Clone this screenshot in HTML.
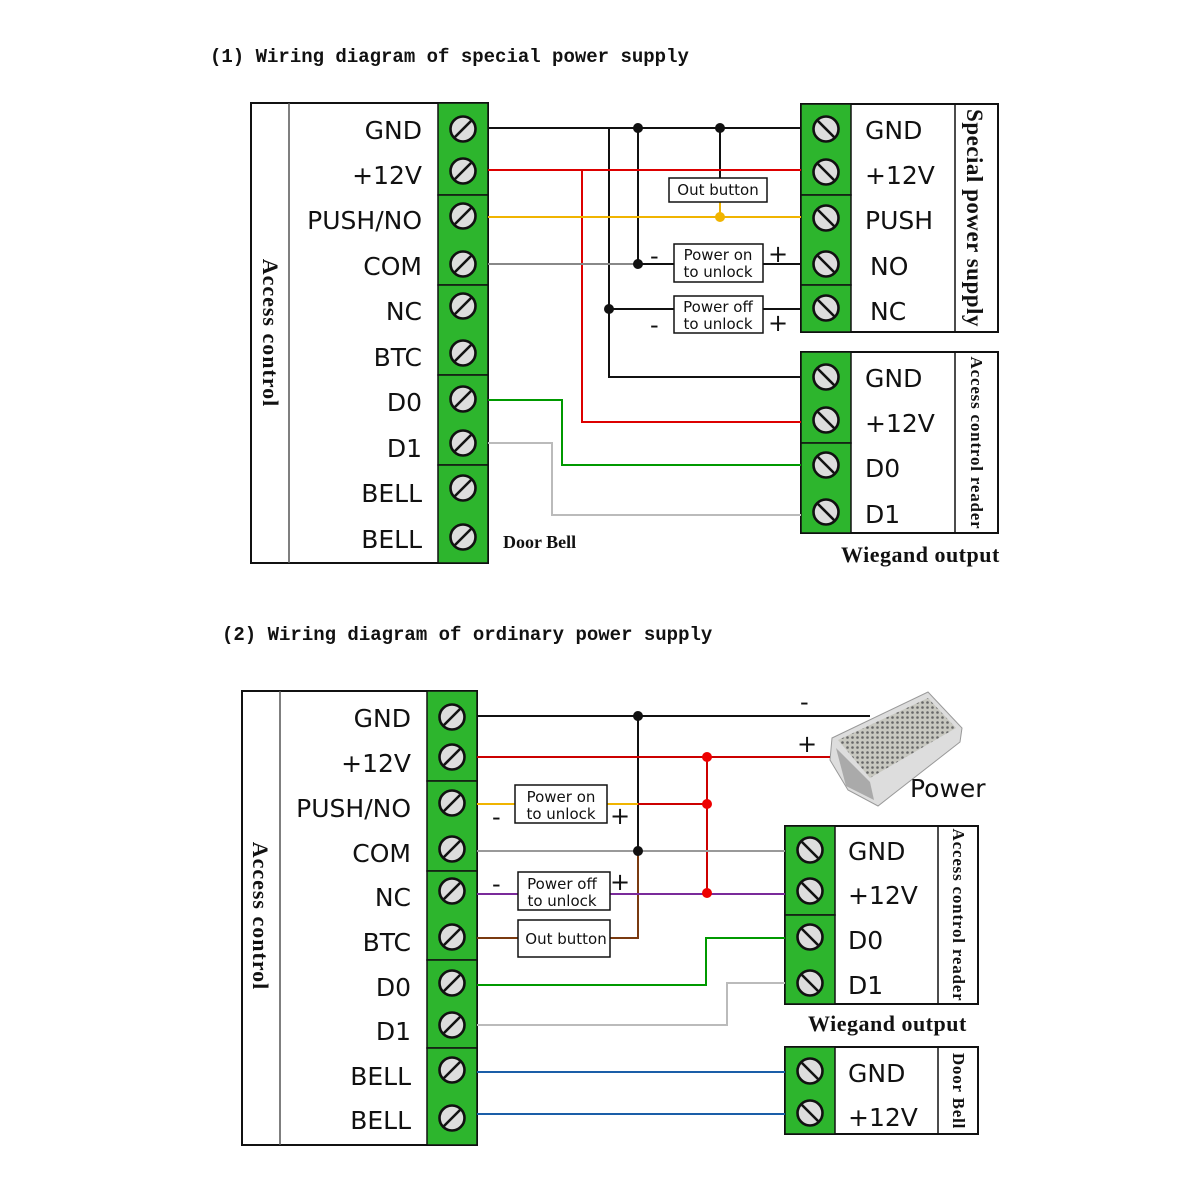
<!DOCTYPE html>
<html><head><meta charset="utf-8"><style>
html,body{margin:0;padding:0;background:#fff;}
svg{display:block;}
.lbl{font-family:"DejaVu Sans","Liberation Sans",sans-serif;font-size:25px;fill:#111;}
.ser{font-family:"Liberation Serif",serif;font-weight:bold;fill:#111;}
.ttl{font-family:"Liberation Mono",monospace;font-weight:bold;font-size:19px;fill:#111;}
.bx{font-family:"DejaVu Sans","Liberation Sans",sans-serif;font-size:15px;fill:#111;}
.pm{font-family:"DejaVu Sans","Liberation Sans",sans-serif;font-size:24px;fill:#111;}
</style></head><body>
<svg width="1200" height="1200" viewBox="0 0 1200 1200" xmlns="http://www.w3.org/2000/svg">
<defs>
<g id="tl"><circle r="12.5" fill="#ddd" stroke="#111" stroke-width="2.6"/><line x1="-8" y1="8" x2="8" y2="-8" stroke="#111" stroke-width="2.6"/></g>
<g id="tr"><circle r="12.5" fill="#ddd" stroke="#111" stroke-width="2.6"/><line x1="-8" y1="-8" x2="8" y2="8" stroke="#111" stroke-width="2.6"/></g>
<pattern id="mesh" width="5" height="5" patternUnits="userSpaceOnUse"><rect width="5" height="5" fill="#c8c8c0"/><circle cx="2.5" cy="2.5" r="1.3" fill="#666"/></pattern>
</defs>

<text class="ttl" x="210" y="62">(1) Wiring diagram of special power supply</text>

<rect x="251" y="103" width="237" height="460" fill="#fff" stroke="#111" stroke-width="2"/>
<line x1="289" y1="103" x2="289" y2="563" stroke="#555" stroke-width="1.5"/>
<g fill="#2db52d" stroke="#111" stroke-width="1.5">
<rect x="438" y="103" width="50" height="92"/><rect x="438" y="195" width="50" height="90"/><rect x="438" y="285" width="50" height="90"/><rect x="438" y="375" width="50" height="90"/><rect x="438" y="465" width="50" height="98"/>
</g>
<use href="#tl" x="463" y="129"/><use href="#tl" x="463" y="171"/><use href="#tl" x="463" y="216"/><use href="#tl" x="463" y="264"/><use href="#tl" x="463" y="306"/><use href="#tl" x="463" y="353"/><use href="#tl" x="463" y="399"/><use href="#tl" x="463" y="443"/><use href="#tl" x="463" y="488"/><use href="#tl" x="463" y="537"/>
<g class="lbl" text-anchor="end">
<text x="422" y="139">GND</text><text x="422" y="184">+12V</text><text x="422" y="229">PUSH/NO</text><text x="422" y="275">COM</text><text x="422" y="320">NC</text><text x="422" y="366">BTC</text><text x="422" y="411">D0</text><text x="422" y="457">D1</text><text x="422" y="502">BELL</text><text x="422" y="548">BELL</text>
</g>
<text class="ser" font-size="22" letter-spacing="1" transform="translate(263,333) rotate(90)" text-anchor="middle">Access control</text>

<rect x="801" y="104" width="197" height="228" fill="#fff" stroke="#111" stroke-width="2"/>
<line x1="955" y1="104" x2="955" y2="332" stroke="#111" stroke-width="1.5"/>
<g fill="#2db52d" stroke="#111" stroke-width="1.5"><rect x="801" y="104" width="50" height="91"/><rect x="801" y="195" width="50" height="90"/><rect x="801" y="285" width="50" height="47"/></g>
<use href="#tr" x="826" y="129"/><use href="#tr" x="826" y="172"/><use href="#tr" x="826" y="218"/><use href="#tr" x="826" y="264"/><use href="#tr" x="826" y="308"/>
<g class="lbl"><text x="865" y="139">GND</text><text x="865" y="184">+12V</text><text x="865" y="229">PUSH</text><text x="870" y="275">NO</text><text x="870" y="320">NC</text></g>
<text class="ser" font-size="23" letter-spacing="0.5" transform="translate(967,218) rotate(90)" text-anchor="middle">Special power supply</text>

<rect x="801" y="352" width="197" height="181" fill="#fff" stroke="#111" stroke-width="2"/>
<line x1="955" y1="352" x2="955" y2="533" stroke="#111" stroke-width="1.5"/>
<g fill="#2db52d" stroke="#111" stroke-width="1.5"><rect x="801" y="352" width="50" height="91"/><rect x="801" y="443" width="50" height="90"/></g>
<use href="#tr" x="826" y="377"/><use href="#tr" x="826" y="420"/><use href="#tr" x="826" y="465"/><use href="#tr" x="826" y="512"/>
<g class="lbl"><text x="865" y="387">GND</text><text x="865" y="432">+12V</text><text x="865" y="477">D0</text><text x="865" y="523">D1</text></g>
<text class="ser" font-size="17" letter-spacing="0.8" transform="translate(971,443) rotate(90)" text-anchor="middle">Access control reader</text>
<text class="ser" font-size="22" letter-spacing="0.5" x="841" y="562">Wiegand output</text>
<text class="ser" font-size="18" x="503" y="548">Door Bell</text>

<g fill="none" stroke-width="2">
<polyline points="488,128 801,128" stroke="#111"/>
<polyline points="609,128 609,377 801,377" stroke="#111"/>
<polyline points="638,128 638,264" stroke="#111"/>
<polyline points="720,128 720,178" stroke="#111"/>
<polyline points="720,202 720,217" stroke="#f0b400"/>
<polyline points="488,170 801,170" stroke="#d00"/>
<polyline points="582,170 582,422 801,422" stroke="#d00"/>
<polyline points="488,217 801,217" stroke="#f0b400"/>
<polyline points="488,264 638,264" stroke="#888"/>
<polyline points="638,264 674,264" stroke="#111"/>
<polyline points="763,264 801,264" stroke="#111"/>
<polyline points="609,309 674,309" stroke="#111"/>
<polyline points="763,309 801,309" stroke="#111"/>
<polyline points="488,400 562,400 562,465 801,465" stroke="#090"/>
<polyline points="488,443 552,443 552,515 801,515" stroke="#bbb"/>
</g>
<g fill="#111"><circle cx="638" cy="128" r="5"/><circle cx="720" cy="128" r="5"/><circle cx="638" cy="264" r="5"/><circle cx="609" cy="309" r="5"/></g>
<circle cx="720" cy="217" r="5" fill="#f0b400"/>
<rect x="669" y="178" width="98" height="24" fill="#fff" stroke="#111" stroke-width="1.5"/>
<text class="bx" x="718" y="195" text-anchor="middle">Out button</text>
<rect x="674" y="244" width="89" height="38" fill="#fff" stroke="#111" stroke-width="1.5"/>
<text class="bx" x="718" y="260" text-anchor="middle">Power on</text><text class="bx" x="718" y="277" text-anchor="middle">to unlock</text>
<rect x="674" y="296" width="89" height="37" fill="#fff" stroke="#111" stroke-width="1.5"/>
<text class="bx" x="718" y="312" text-anchor="middle">Power off</text><text class="bx" x="718" y="329" text-anchor="middle">to unlock</text>
<g class="pm"><text x="650" y="264">-</text><text x="768" y="262">+</text><text x="650" y="333">-</text><text x="768" y="331">+</text></g>

<text class="ttl" x="222" y="640">(2) Wiring diagram of ordinary power supply</text>
<rect x="242" y="691" width="235" height="454" fill="#fff" stroke="#111" stroke-width="2"/>
<line x1="280" y1="691" x2="280" y2="1145" stroke="#555" stroke-width="1.5"/>
<g fill="#2db52d" stroke="#111" stroke-width="1.5">
<rect x="427" y="691" width="50" height="90"/><rect x="427" y="781" width="50" height="90"/><rect x="427" y="871" width="50" height="89"/><rect x="427" y="960" width="50" height="88"/><rect x="427" y="1048" width="50" height="97"/>
</g>
<use href="#tl" x="452" y="717"/><use href="#tl" x="452" y="757"/><use href="#tl" x="452" y="803"/><use href="#tl" x="452" y="849"/><use href="#tl" x="452" y="891"/><use href="#tl" x="452" y="937"/><use href="#tl" x="452" y="983"/><use href="#tl" x="452" y="1025"/><use href="#tl" x="452" y="1070"/><use href="#tl" x="452" y="1118"/>
<g class="lbl" text-anchor="end">
<text x="411" y="727">GND</text><text x="411" y="772">+12V</text><text x="411" y="817">PUSH/NO</text><text x="411" y="862">COM</text><text x="411" y="906">NC</text><text x="411" y="951">BTC</text><text x="411" y="996">D0</text><text x="411" y="1040">D1</text><text x="411" y="1085">BELL</text><text x="411" y="1129">BELL</text>
</g>
<text class="ser" font-size="22" letter-spacing="1" transform="translate(253,916) rotate(90)" text-anchor="middle">Access control</text>

<polygon points="832,738 928,692 962,728 960,742 878,806 848,790 830,760" fill="#ddd" stroke="#999" stroke-width="1"/>
<polygon points="838,740 928,698 956,728 870,778" fill="url(#mesh)"/>
<polygon points="836,748 870,782 874,800 846,786" fill="#aaa"/>
<text class="lbl" x="910" y="797" font-size="23">Power</text>
<text class="pm" x="800" y="710">-</text><text class="pm" x="797" y="752" font-size="30">+</text>

<rect x="785" y="826" width="193" height="178" fill="#fff" stroke="#111" stroke-width="2"/>
<line x1="938" y1="826" x2="938" y2="1004" stroke="#111" stroke-width="1.5"/>
<g fill="#2db52d" stroke="#111" stroke-width="1.5"><rect x="785" y="826" width="50" height="89"/><rect x="785" y="915" width="50" height="89"/></g>
<use href="#tr" x="810" y="850"/><use href="#tr" x="810" y="891"/><use href="#tr" x="810" y="937"/><use href="#tr" x="810" y="983"/>
<g class="lbl"><text x="848" y="860">GND</text><text x="848" y="904">+12V</text><text x="848" y="949">D0</text><text x="848" y="994">D1</text></g>
<text class="ser" font-size="17" letter-spacing="0.8" transform="translate(953,915) rotate(90)" text-anchor="middle">Access control reader</text>
<text class="ser" font-size="22" letter-spacing="0.5" x="808" y="1031">Wiegand output</text>

<rect x="785" y="1047" width="193" height="87" fill="#fff" stroke="#111" stroke-width="2"/>
<line x1="938" y1="1047" x2="938" y2="1134" stroke="#111" stroke-width="1.5"/>
<rect x="785" y="1047" width="50" height="87" fill="#2db52d" stroke="#111" stroke-width="1.5"/>
<use href="#tr" x="810" y="1071"/><use href="#tr" x="810" y="1113"/>
<g class="lbl"><text x="848" y="1082">GND</text><text x="848" y="1126">+12V</text></g>
<text class="ser" font-size="17" letter-spacing="0.8" transform="translate(953,1091) rotate(90)" text-anchor="middle">Door Bell</text>

<g fill="none" stroke-width="2">
<polyline points="477,716 870,716" stroke="#111"/>
<polyline points="638,716 638,851" stroke="#111"/>
<polyline points="638,851 638,938 610,938" stroke="#7a3a10"/>
<polyline points="477,938 518,938" stroke="#7a3a10"/>
<polyline points="477,757 830,757" stroke="#c00"/>
<polyline points="707,757 707,893" stroke="#c00"/>
<polyline points="477,804 515,804" stroke="#f0b400"/>
<polyline points="607,804 638,804" stroke="#f0b400"/>
<polyline points="638,804 707,804" stroke="#c00"/>
<polyline points="477,851 785,851" stroke="#999"/>
<polyline points="477,894 518,894" stroke="#7a2a9a"/>
<polyline points="610,894 785,894" stroke="#7a2a9a"/>
<polyline points="477,985 706,985 706,938 785,938" stroke="#090"/>
<polyline points="477,1025 727,1025 727,983 785,983" stroke="#bbb"/>
<polyline points="477,1072 785,1072" stroke="#1a5ea8"/>
<polyline points="477,1114 785,1114" stroke="#1a5ea8"/>
</g>
<g fill="#111"><circle cx="638" cy="716" r="5"/><circle cx="638" cy="851" r="5"/></g>
<g fill="#e00"><circle cx="707" cy="757" r="5"/><circle cx="707" cy="804" r="5"/><circle cx="707" cy="893" r="5"/></g>
<rect x="515" y="785" width="92" height="38" fill="#fff" stroke="#111" stroke-width="1.5"/>
<text class="bx" x="561" y="802" text-anchor="middle">Power on</text><text class="bx" x="561" y="819" text-anchor="middle">to unlock</text>
<rect x="518" y="872" width="92" height="38" fill="#fff" stroke="#111" stroke-width="1.5"/>
<text class="bx" x="562" y="889" text-anchor="middle">Power off</text><text class="bx" x="562" y="906" text-anchor="middle">to unlock</text>
<rect x="518" y="920" width="92" height="37" fill="#fff" stroke="#111" stroke-width="1.5"/>
<text class="bx" x="566" y="944" text-anchor="middle">Out button</text>
<g class="pm"><text x="492" y="825">-</text><text x="610" y="824">+</text><text x="492" y="892">-</text><text x="610" y="890">+</text></g>
</svg>
</body></html>
